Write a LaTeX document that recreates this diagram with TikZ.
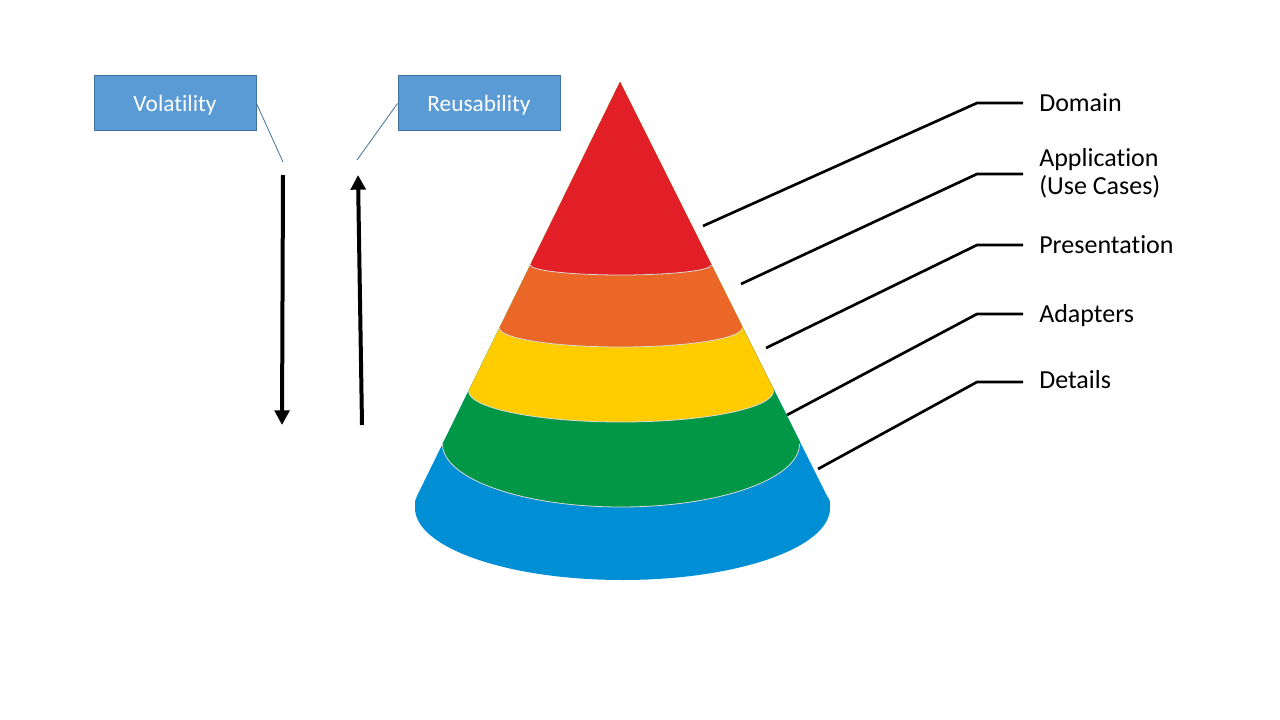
\documentclass[tikz,border=0pt]{standalone}
\usepackage{fontspec}
\setmainfont[Ligatures=NoCommon]{Carlito}
\usetikzlibrary{arrows.meta}
\definecolor{cred}{RGB}{226,31,38}
\definecolor{corange}{RGB}{234,103,39}
\definecolor{cyellow}{RGB}{255,204,0}
\definecolor{cgreen}{RGB}{0,151,70}
\definecolor{cblue}{RGB}{0,142,213}
\definecolor{boxfill}{RGB}{91,155,213}
\definecolor{boxline}{RGB}{65,113,156}
\begin{document}
\begin{tikzpicture}[x=0.75pt,y=-0.75pt,
  leader/.style={line width=2pt,black},
  layerlabel/.style={anchor=base west,inner xsep=12pt,inner ysep=0pt,font=\fontsize{19.5}{21}\selectfont,align=left},
  tagbox/.style={draw=boxline,line width=0.75pt,fill=boxfill,text=white,minimum width=121.5pt,minimum height=41.25pt,inner sep=0pt,text height=12pt,text depth=0pt,font=\fontsize{17.5}{20}\selectfont},
  callout/.style={draw=boxline,line width=0.6pt},
  bigarrow/.style={line width=3pt,-{Triangle[length=11pt,width=11pt]}},
  sep/.style={draw=white!85!black,line width=0.6pt}
]
\useasboundingbox (0,0) rectangle (1280,720);
% cone
\def\conepath{(620,82) -- (417,496) .. controls (415,500) .. (415,508) arc(180:0:207.5 and 72) .. controls (830,500) .. (827,496) -- cycle}
\fill[cblue] \conepath;
\begin{scope}
  \clip \conepath;
  \fill[cgreen] (442.5,444) arc(180:0:178.5 and 63) -- (799.5,60) -- (442.5,60) -- cycle;
  \fill[cyellow] (468.5,391) arc(180:0:152.5 and 31) -- (773.5,60) -- (468.5,60) -- cycle;
  \fill[corange] (499.4,328) arc(180:0:121.3 and 19) -- (742,60) -- (499.4,60) -- cycle;
  \fill[cred] (530.3,265) arc(180:0:90.5 and 10) -- (711.3,60) -- (530.3,60) -- cycle;
  \draw[sep] (442.5,444) arc(180:0:178.5 and 63);
  \draw[sep] (468.5,391) arc(180:0:152.5 and 31);
  \draw[sep] (499.4,328) arc(180:0:121.3 and 19);
  \draw[sep] (530.3,265) arc(180:0:90.5 and 10);
\end{scope}
% labels
\node[layerlabel] (dom) at (1023,112) {Domain};
\node[layerlabel] (app) at (1023,195) {Application\\(Use Cases)};
\node[layerlabel] (pres) at (1023,253) {Presentation};
\node[layerlabel] (adp) at (1023,322) {Adapters};
\node[layerlabel] (det) at (1023,388) {Details};
% leader coordinates
\coordinate (pD) at (703,226); \coordinate (kD) at (977,103);
\coordinate (pA) at (741,284); \coordinate (kA) at (977,174);
\coordinate (pP) at (766,348); \coordinate (kP) at (977,245);
\coordinate (pX) at (787,415); \coordinate (kX) at (977,314);
\coordinate (pT) at (818,469); \coordinate (kT) at (977,382);
\draw[leader] (pD) -- (kD) -- (kD -| dom.west);
\draw[leader] (pA) -- (kA) -- (kA -| app.west);
\draw[leader] (pP) -- (kP) -- (kP -| pres.west);
\draw[leader] (pX) -- (kX) -- (kX -| adp.west);
\draw[leader] (pT) -- (kT) -- (kT -| det.west);
% boxes
\node[tagbox] (vol) at (175,103.5) {Volatility};
\node[tagbox] (reu) at (479,103.5) {Reusability};
\coordinate (cv) at (283,162);
\coordinate (cr) at (357,160);
\draw[callout] (vol.east) -- (cv);
\draw[callout] (reu.west) -- (cr);
% arrows
\coordinate (a1s) at (283,175); \coordinate (a1e) at (282,425);
\coordinate (a2s) at (362,425); \coordinate (a2e) at (358,175);
\draw[bigarrow] (a1s) -- (a1e);
\draw[bigarrow] (a2s) -- (a2e);
\end{tikzpicture}
\end{document}
